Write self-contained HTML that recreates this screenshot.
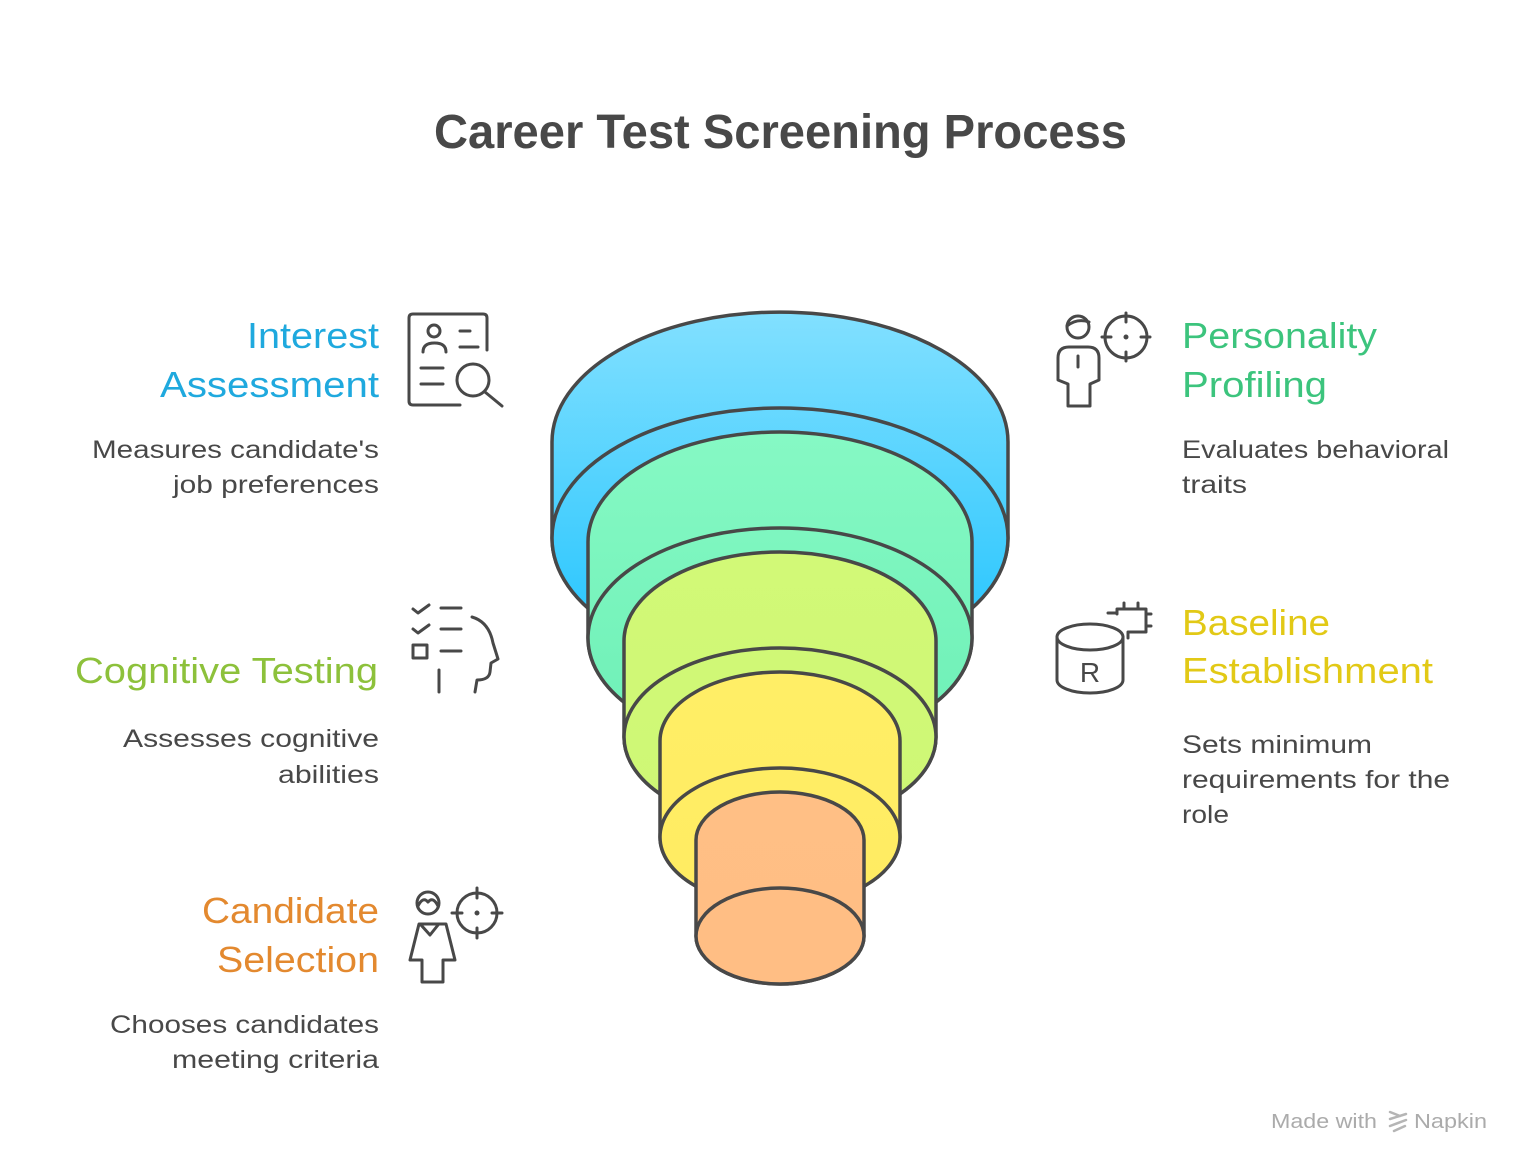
<!DOCTYPE html>
<html><head><meta charset="utf-8"><style>
html,body{margin:0;padding:0;background:#fff;}
svg{display:block;}
text{font-family:"Liberation Sans",Arial,sans-serif;}
</style></head><body>
<svg width="1536" height="1176" viewBox="0 0 1536 1176" xmlns="http://www.w3.org/2000/svg">
<defs>
<linearGradient id="gb" x1="0" y1="312" x2="0" y2="620" gradientUnits="userSpaceOnUse"><stop offset="0" stop-color="#82E0FF"/><stop offset="1" stop-color="#2DC7FE"/></linearGradient>
<linearGradient id="gg" x1="0" y1="432" x2="0" y2="740" gradientUnits="userSpaceOnUse"><stop offset="0" stop-color="#86F9C4"/><stop offset="1" stop-color="#6EF0B7"/></linearGradient>
<linearGradient id="gy" x1="0" y1="552" x2="0" y2="820" gradientUnits="userSpaceOnUse"><stop offset="0" stop-color="#D2F977"/><stop offset="1" stop-color="#CEF775"/></linearGradient>
<linearGradient id="gw" x1="0" y1="672" x2="0" y2="900" gradientUnits="userSpaceOnUse"><stop offset="0" stop-color="#FFEE66"/><stop offset="1" stop-color="#FFEC62"/></linearGradient>
<linearGradient id="go" x1="0" y1="792" x2="0" y2="984" gradientUnits="userSpaceOnUse"><stop offset="0" stop-color="#FFBF85"/><stop offset="1" stop-color="#FFBE84"/></linearGradient>
</defs>

<text x="434" y="148" font-size="48" font-weight="bold" fill="#484848" textLength="693" lengthAdjust="spacingAndGlyphs">Career Test Screening Process</text>

<g stroke="#484848" stroke-width="3.5" stroke-linejoin="round">
<path d="M552,442 A228,130 0 0 1 1008,442 L1008,538 A228,130 0 0 1 552,538 Z" fill="url(#gb)"/>
<ellipse cx="780" cy="538" rx="228" ry="130" fill="url(#gb)"/>
<path d="M588,542 A192,110 0 0 1 972,542 L972,638 A192,110 0 0 1 588,638 Z" fill="url(#gg)"/>
<ellipse cx="780" cy="638" rx="192" ry="110" fill="url(#gg)"/>
<path d="M624,641 A156,89 0 0 1 936,641 L936,737 A156,89 0 0 1 624,737 Z" fill="url(#gy)"/>
<ellipse cx="780" cy="737" rx="156" ry="89" fill="url(#gy)"/>
<path d="M660,741 A120,69 0 0 1 900,741 L900,837 A120,69 0 0 1 660,837 Z" fill="url(#gw)"/>
<ellipse cx="780" cy="837" rx="120" ry="69" fill="url(#gw)"/>
<path d="M696,840 A84,48 0 0 1 864,840 L864,936 A84,48 0 0 1 696,936 Z" fill="url(#go)"/>
<ellipse cx="780" cy="936" rx="84" ry="48" fill="url(#go)"/>
</g>

<g font-size="36">
<text x="247" y="348" fill="#1FA9DE" textLength="132" lengthAdjust="spacingAndGlyphs">Interest</text>
<text x="160" y="397" fill="#1FA9DE" textLength="219" lengthAdjust="spacingAndGlyphs">Assessment</text>
<text x="75" y="683" fill="#8DC13B" textLength="303" lengthAdjust="spacingAndGlyphs">Cognitive Testing</text>
<text x="202" y="923" fill="#E3892F" textLength="177" lengthAdjust="spacingAndGlyphs">Candidate</text>
<text x="217" y="972" fill="#E3892F" textLength="162" lengthAdjust="spacingAndGlyphs">Selection</text>
<text x="1182" y="348" fill="#3CC47D" textLength="195" lengthAdjust="spacingAndGlyphs">Personality</text>
<text x="1182" y="397" fill="#3CC47D" textLength="145" lengthAdjust="spacingAndGlyphs">Profiling</text>
<text x="1182" y="635" fill="#E2C916" textLength="148" lengthAdjust="spacingAndGlyphs">Baseline</text>
<text x="1182" y="683" fill="#E2C916" textLength="251" lengthAdjust="spacingAndGlyphs">Establishment</text>
</g>
<g font-size="25" fill="#484848">
<text x="92" y="458" textLength="287" lengthAdjust="spacingAndGlyphs">Measures candidate's</text>
<text x="173" y="493" textLength="206" lengthAdjust="spacingAndGlyphs">job preferences</text>
<text x="123" y="747" textLength="256" lengthAdjust="spacingAndGlyphs">Assesses cognitive</text>
<text x="278" y="783" textLength="101" lengthAdjust="spacingAndGlyphs">abilities</text>
<text x="110" y="1033" textLength="269" lengthAdjust="spacingAndGlyphs">Chooses candidates</text>
<text x="172" y="1068" textLength="207" lengthAdjust="spacingAndGlyphs">meeting criteria</text>
<text x="1182" y="458" textLength="267" lengthAdjust="spacingAndGlyphs">Evaluates behavioral</text>
<text x="1182" y="493" textLength="65" lengthAdjust="spacingAndGlyphs">traits</text>
<text x="1182" y="753" textLength="190" lengthAdjust="spacingAndGlyphs">Sets minimum</text>
<text x="1182" y="788" textLength="268" lengthAdjust="spacingAndGlyphs">requirements for the</text>
<text x="1182" y="823" textLength="47" lengthAdjust="spacingAndGlyphs">role</text>
</g>

<g fill="none" stroke="#484848" stroke-width="3" stroke-linecap="round" stroke-linejoin="round">
<path d="M460,405 L413,405 Q409,405 409,401 L409,318 Q409,314 413,314 L483,314 Q487,314 487,318 L487,350"/>
<circle cx="434" cy="331" r="6"/>
<path d="M423,352 Q423,343 434.5,343 Q446,343 446,352"/>
<path d="M460,331 H470 M460,347 H478 M421,368 H443 M421,384 H443"/>
<circle cx="473" cy="380" r="16"/>
<path d="M485,392 L502,406"/>
<circle cx="1078" cy="327" r="11"/>
<path d="M1067,326 Q1077,318 1089,322"/>
<path d="M1068,406 L1068,384 L1058,380 L1058,358 Q1058,347 1069,347 L1088,347 Q1099,347 1099,358 L1099,380 L1090,384 L1090,406 Z"/>
<path d="M1078,356 V367"/>
<circle cx="1126" cy="337" r="21"/>
<path d="M1126,313 V322 M1126,352 V361 M1102,337 H1111 M1141,337 H1150"/>
<circle cx="1126" cy="337" r="1" fill="#484848"/>
<path d="M413,609 L418,613 L429,605 M413,629 L418,633 L429,625"/>
<rect x="413" y="645" width="14" height="13"/>
<path d="M441,608 H461 M441,629 H461 M441,651 H461 M439,670 V692"/>
<path d="M472,617 Q489,622 493,643 L498,659 L491,663 L490,672 Q489,680 477,680 L475,692"/>
<ellipse cx="1090" cy="637" rx="33" ry="13"/>
<path d="M1057,637 L1057,680 A33,13 0 0 0 1123,680 L1123,637"/>
<path d="M1117,614 V609 H1146 V632 H1128 M1124,609 V603 M1138,609 V603 M1146,614 H1151 M1146,626 H1151 M1117,613 H1108 M1128,632 V638"/>
<circle cx="428" cy="903" r="11"/>
<path d="M418,906 Q423,896 428,902 Q433,896 438,906"/>
<path d="M419,924 L410,960 L422,960 L422,982 L443,982 L443,960 L455,960 L446,924 Z"/>
<path d="M421,925 L430,935 L438,925"/>
<circle cx="477" cy="913" r="20"/>
<path d="M477,888 V898 M477,928 V938 M452,913 H462 M492,913 H502"/>
<circle cx="477" cy="913" r="1" fill="#484848"/>
</g>
<text x="1090" y="682" font-size="28" fill="#484848" text-anchor="middle">R</text>

<text x="1271" y="1128" font-size="20" fill="#ABABAB" textLength="106" lengthAdjust="spacingAndGlyphs">Made with</text>
<g stroke="#B5B5B5" stroke-width="2.5" fill="none" stroke-linecap="round">
<path d="M1390,1112 L1400,1116 M1390,1119 L1406,1114 M1390,1126 L1406,1120 M1394,1131 L1405,1126"/>
</g>
<text x="1414" y="1128" font-size="20" fill="#ABABAB" textLength="73" lengthAdjust="spacingAndGlyphs">Napkin</text>
</svg>
</body></html>
